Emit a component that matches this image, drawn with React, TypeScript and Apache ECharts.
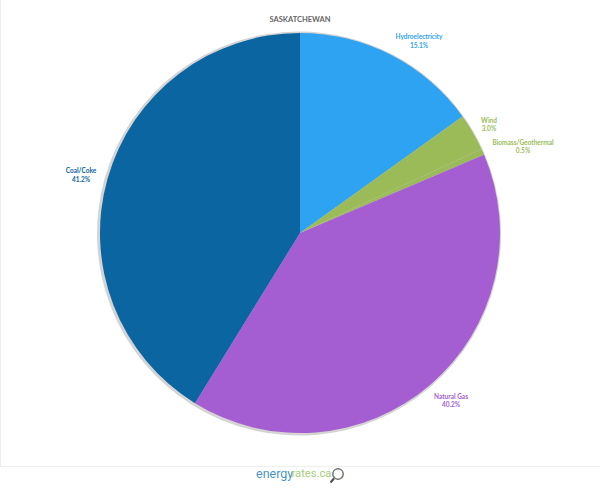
import React, { useEffect, useRef } from "react";
import * as echarts from "echarts";

const titleText = "SASKATCHEWAN";
const categories = ["Hydroelectricity", "Wind", "Biomass/Geothermal", "Natural Gas", "Coal/Coke"];
const shares = [15.1, 3.0, 0.5, 40.2, 41.2];
const colors = ["#2ea3f2", "#9bbb59", "#9bbb59", "#a45ed1", "#0b65a0"];
const labelColors = ["#2ea3f2", "#9bbb59", "#9bbb59", "#a45ed1", "#0b65a0"];
const labelCentres = [
  [419, 41],
  [489, 124.5],
  [523, 146.5],
  [451, 400.5],
  [81, 175],
];

export default function App() {
  const ref = useRef<HTMLDivElement>(null);
  useEffect(() => {
    const chart = echarts.init(ref.current!, null, { renderer: "svg" });
    chart.setOption({
      animation: false,
      backgroundColor: "#ffffff",
      title: {
        text: titleText,
        left: "center",
        top: 10,
        textStyle: { fontFamily: "Lato", fontSize: 7.5, fontWeight: "bold", color: "#666666" },
      },
      graphic: [
        { type: "line", shape: { x1: 0.5, y1: 0, x2: 0.5, y2: 466.5 }, style: { stroke: "#eeeeee", lineWidth: 1 } },
        { type: "line", shape: { x1: 0, y1: 466.5, x2: 600, y2: 466.5 }, style: { stroke: "#eeeeee", lineWidth: 1 } },
        {
          type: "text",
          x: 256,
          y: 467,
          style: { text: "energy", fontFamily: "Roboto", fontSize: 12.5, fill: "#4a94c8" },
        },
        {
          type: "text",
          x: 291.5,
          y: 467.5,
          style: { text: "rates.ca", fontFamily: "Roboto", fontSize: 11.2, fill: "#a9cd7c" },
        },
        { type: "circle", shape: { cx: 338, cy: 474, r: 5.2 }, style: { fill: "#ffffff", stroke: "#707870", lineWidth: 1.4 } },
        { type: "line", shape: { x1: 334, y1: 478.5, x2: 330.5, y2: 482.5 }, style: { stroke: "#505050", lineWidth: 2 } },
      ],
      series: [
        {
          type: "pie",
          silent: true,
          z: 1,
          center: [299, 233.5],
          radius: [0, 202],
          startAngle: 90,
          clockwise: true,
          label: { show: false },
          labelLine: { show: false },
          itemStyle: { color: "#d4d4d4" },
          data: categories.map((name, i) => ({ name, value: shares[i] })),
        },
        {
          type: "pie",
          z: 2,
          center: [300, 233],
          radius: [0, 200],
          startAngle: 90,
          clockwise: true,
          avoidLabelOverlap: false,
          labelLine: { show: false },
          label: {
            show: true,
            position: "outside",
            align: "center",
            verticalAlign: "middle",
            fontFamily: "Lato",
            fontSize: 6.5,
            fontWeight: "bold",
            lineHeight: 8.5,
            formatter: (p: any) => `${p.name}\n${p.value.toFixed(1)}%`,
          },
          labelLayout: (p: any) => ({
            x: labelCentres[p.dataIndex][0],
            y: labelCentres[p.dataIndex][1],
            align: "center",
            verticalAlign: "middle",
          }),
          data: categories.map((name, i) => ({
            name,
            value: shares[i],
            itemStyle: { color: colors[i] },
            label: { color: labelColors[i] },
          })),
        },
      ],
    });
    return () => chart.dispose();
  }, []);
  return <div ref={ref} style={{ position: "fixed", left: 0, top: 0, width: 600, height: 488 }} />;
}
